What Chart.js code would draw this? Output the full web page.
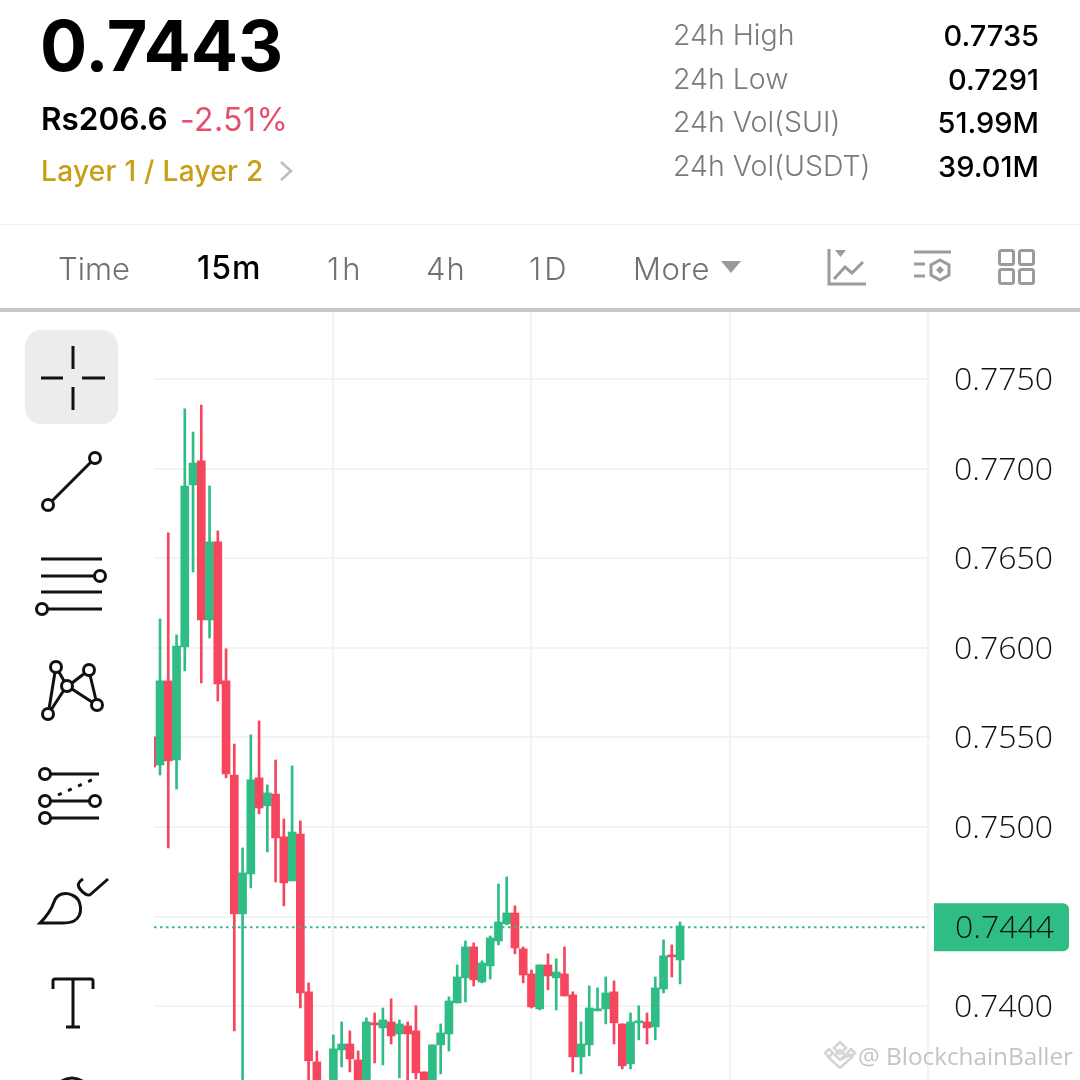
<!DOCTYPE html>
<html>
<head>
<meta charset="utf-8">
<title>SUI/USDT 15m</title>
<script src="https://cdn.jsdelivr.net/npm/chart.js@4/dist/chart.umd.min.js"></script>
<style>
  html, body { margin: 0; padding: 0; background: #fff; }
  #page { position: relative; width: 1080px; height: 1080px; overflow: hidden; font-family: Inter, sans-serif; }
  #page canvas { position: absolute; left: 0; top: 0; }
  #page svg { position: absolute; left: 0; top: 0; }
  .t { position: absolute; white-space: nowrap; transform: translateY(-50%); line-height: 1; }
  .r { transform: translate(-100%, -50%); }
  .lbl { left: 673px; font-size: 28.5px; color: #7a7a7a; font-weight: 300; }
  .val { left: 1039px; font-size: 29px; color: #000; font-weight: 500; }
  .tab { top: 268px; font-size: 31px; color: #707070; font-weight: 300; }
  .rule { position: absolute; left: 0; width: 1080px; }
</style>
</head>
<body>
<div id="page">
  <canvas id="myChart" width="1080" height="1080"></canvas>

  <div class="rule" style="top:224px;height:1px;background:#f1f1f1"></div>
  <div class="rule" style="top:308px;height:4px;background:#c6c8c6"></div>

  <div class="t" style="left:40px;top:46px;font-size:70px;font-weight:700;color:#000">0.7443</div>
  <div class="t" style="left:41px;top:119px;font-size:31.5px;font-weight:600;color:#000">Rs206.6</div>
  <div class="t" style="left:180px;top:120px;font-size:32px;font-weight:400;letter-spacing:0.4px;color:#e2506b">-2.51%</div>
  <div class="t" style="left:41px;top:171px;font-size:28px;font-weight:500;letter-spacing:0.3px;color:#c99e14">Layer 1 / Layer 2</div>

  <div class="t lbl" style="top:35px">24h High</div>
  <div class="t lbl" style="top:79px">24h Low</div>
  <div class="t lbl" style="top:122px">24h Vol(SUI)</div>
  <div class="t lbl" style="top:166px">24h Vol(USDT)</div>
  <div class="t val r" style="top:35px">0.7735</div>
  <div class="t val r" style="top:79px">0.7291</div>
  <div class="t val r" style="top:122px">51.99M</div>
  <div class="t val r" style="top:166px">39.01M</div>

  <div class="t tab" style="left:58px">Time</div>
  <div class="t tab" style="left:197px;color:#000;font-weight:500;font-size:32px;letter-spacing:1px">15m</div>
  <div class="t tab" style="left:327px;letter-spacing:3px">1h</div>
  <div class="t tab" style="left:426px;letter-spacing:1px">4h</div>
  <div class="t tab" style="left:529px;letter-spacing:3px">1D</div>
  <div class="t tab" style="left:633px;letter-spacing:0.5px">More</div>

  <svg width="1080" height="1080" fill="none" stroke-linecap="butt">
    <path d="M281 162l10 9-10 9" stroke="#bdbdbd" stroke-width="2.5"/>
    <path d="M721 261h20l-10 12z" fill="#999"/>
    <g stroke="#9b9b9b" stroke-width="3">
      <path d="M829 249V284H866"/>
      <path d="M835 250h11l-5.5 7z" fill="#9b9b9b" stroke="none"/>
      <path d="M834 279l11-12 7 6 11-11"/>
      <path d="M914 252h37M914 264h11M914 276h11"/>
      <path d="M940 260l9 5v10l-9 5-9-5v-10z"/>
      <path d="M940 266l4 4-4 4-4-4z" fill="#9b9b9b" stroke="none"/>
      <rect x="999.5" y="250.5" width="14" height="14" rx="2"/>
      <rect x="1019.5" y="250.5" width="14" height="14" rx="2"/>
      <rect x="999.5" y="269.5" width="14" height="14" rx="2"/>
      <rect x="1019.5" y="269.5" width="14" height="14" rx="2"/>
    </g>
    <rect x="25" y="330" width="93" height="94" rx="16" fill="#ececec"/>
    <g stroke="#111" stroke-width="3">
      <path d="M73 346v23M73 387v23M41 378h22M82 378h23"/>
      <circle cx="95" cy="458" r="5.5"/><circle cx="48" cy="505" r="5.5"/>
      <path d="M91 462L52 501"/>
      <path d="M41 559h61M41 576h54M41 592h61M47 609h55"/>
      <circle cx="100" cy="576" r="5.5"/><circle cx="42" cy="609" r="5.5"/>
      <path d="M55 672L49 709M59 672L64 681M51 710L64 690M72 683L85 673M90 675L96 700M72 689L92 702"/>
      <circle cx="56" cy="667" r="5.5"/><circle cx="89" cy="670" r="5.5"/><circle cx="67" cy="686" r="5.5"/>
      <circle cx="97" cy="705" r="5.5"/><circle cx="48" cy="714" r="5.5"/>
      <path d="M51 774h48M51 801h39M51 818h48"/>
      <path d="M58 795L94 779" stroke-dasharray="4 7"/>
      <circle cx="45" cy="774" r="5.5"/><circle cx="45" cy="801" r="5.5"/><circle cx="95" cy="801" r="5.5"/><circle cx="45" cy="818" r="5.5"/>
      <path d="M40 923C48 915 52 908 54 902C57 893 66 892 72 895C82 899 84 915 74 921C70 923 68 923 62 923Z"/>
      <path d="M83 879C78 882 77 885 80 889C83 893 88 897 91 894L108 879"/>
      <path d="M53 989V981Q53 979 55 979H91Q93 979 93 981V989M73 979V1027M66 1027H80"/>
      <path d="M60 1082Q72 1074 84 1082"/>
    </g>
    <g stroke="#cfcfcf" stroke-width="2.5" opacity="0.9">
      <path d="M840 1042l6 6-6 6-6-6zM840 1050l5 5-5 5-5-5zM829 1049l4 4-4 4-4-4zM851 1049l4 4-4 4-4-4zM840 1060l12-6M840 1068l-13-12M840 1068l13-12"/>
    </g>
  </svg>
  <div class="t" style="left:858px;top:1056px;font-size:24.3px;font-family:'Open Sans',sans-serif;color:#c4c4c4">@ BlockchainBaller</div>
</div>

<script>
// last price and the y axis levels
const lastPrice = 0.7444;
const yTicks = [0.74, 0.745, 0.75, 0.755, 0.76, 0.765, 0.77, 0.775];
const xGridAt = [22, 46, 70, 94];

// 15m candles, oldest first
const opens = [
  0.75503, 0.75346, 0.75815, 0.75374, 0.76005, 0.76909, 0.77043, 0.76155, 0.76591, 0.75815,
  0.75290, 0.74515, 0.74738, 0.75274, 0.75118, 0.75184, 0.74945, 0.74699, 0.74961, 0.74080,
  0.73689, 0.73561, 0.73533, 0.73756, 0.73789, 0.73700, 0.73533, 0.73907, 0.73879, 0.73912,
  0.73845, 0.73890, 0.73862, 0.73633, 0.73533, 0.73784, 0.73845, 0.74018, 0.74158, 0.74331,
  0.74135, 0.74225, 0.74364, 0.74459, 0.74520, 0.74320, 0.74180, 0.73985, 0.74230, 0.74158,
  0.74180, 0.74063, 0.73717, 0.73784, 0.73974, 0.73985, 0.74080, 0.73901, 0.73678, 0.73907,
  0.73912, 0.73884, 0.74096, 0.74286, 0.74258
];
const highs = [
  0.75503, 0.76161, 0.76641, 0.76072, 0.77333, 0.77204, 0.77355, 0.76903, 0.76652, 0.75994,
  0.75463, 0.74883, 0.75514, 0.75592, 0.75235, 0.75374, 0.75045, 0.75341, 0.75034, 0.74130,
  0.73750, 0.73572, 0.73840, 0.73912, 0.73862, 0.73750, 0.73935, 0.73962, 0.73990, 0.74041,
  0.73923, 0.73912, 0.74002, 0.73633, 0.73784, 0.73901, 0.74052, 0.74230, 0.74364, 0.74353,
  0.74253, 0.74392, 0.74682, 0.74721, 0.74560, 0.74331, 0.74202, 0.74230, 0.74292, 0.74264,
  0.74331, 0.74080, 0.73912, 0.74113, 0.74102, 0.74163, 0.74141, 0.73901, 0.73962, 0.74002,
  0.73962, 0.74163, 0.74370, 0.74342, 0.74470
];
const lows = [
  0.75335, 0.75290, 0.74883, 0.75212, 0.75871, 0.76423, 0.75804, 0.76055, 0.75703, 0.75274,
  0.73862, 0.73533, 0.74660, 0.75073, 0.74861, 0.74693, 0.74560, 0.74699, 0.73990, 0.73533,
  0.73421, 0.73421, 0.73477, 0.73661, 0.73633, 0.73505, 0.73477, 0.73683, 0.73672, 0.73789,
  0.73600, 0.73533, 0.73594, 0.73505, 0.73505, 0.73622, 0.73750, 0.74018, 0.74024, 0.74113,
  0.74130, 0.74152, 0.74342, 0.74453, 0.74292, 0.74130, 0.73990, 0.73979, 0.74091, 0.73979,
  0.74057, 0.73633, 0.73622, 0.73723, 0.73974, 0.73901, 0.73789, 0.73650, 0.73650, 0.73812,
  0.73789, 0.73812, 0.74074, 0.74163, 0.74124
];
const closes = [
  0.75335, 0.75815, 0.75369, 0.76010, 0.76903, 0.77031, 0.76155, 0.76591, 0.75798, 0.75296,
  0.74515, 0.74744, 0.75263, 0.75106, 0.75190, 0.74939, 0.74688, 0.74972, 0.74074, 0.73695,
  0.73477, 0.73477, 0.73762, 0.73789, 0.73706, 0.73561, 0.73912, 0.73895, 0.73923, 0.73834,
  0.73901, 0.73845, 0.73628, 0.73533, 0.73784, 0.73851, 0.74029, 0.74163, 0.74331, 0.74147,
  0.74241, 0.74381, 0.74470, 0.74520, 0.74325, 0.74174, 0.73996, 0.74230, 0.74169, 0.74191,
  0.74057, 0.73717, 0.73789, 0.73990, 0.73985, 0.74074, 0.73907, 0.73667, 0.73912, 0.73918,
  0.73879, 0.74102, 0.74281, 0.74275, 0.74448
];

const GREEN = '#2ebd85';
const RED = '#f6465d';
const candleColor = ctx => closes[ctx.dataIndex] >= opens[ctx.dataIndex] ? GREEN : RED;

// price tag on the axis, sits over the 0.7450 label like in the app
const lastPriceTag = {
  id: 'lastPriceTag',
  afterDraw(chart) {
    const { ctx, scales } = chart;
    const y = scales.y.getPixelForValue(lastPrice);
    ctx.save();
    ctx.fillStyle = GREEN;
    ctx.beginPath();
    ctx.roundRect(934, y - 24, 135, 48, [0, 6, 6, 0]);
    ctx.fill();
    ctx.fillStyle = '#111';
    ctx.font = '300 32px "Open Sans"';
    ctx.textAlign = 'left';
    ctx.textBaseline = 'middle';
    ctx.fillText(lastPrice.toFixed(4), 955, y + 2);
    ctx.restore();
  }
};

new Chart(document.getElementById('myChart'), {
  type: 'bar',
  data: {
    datasets: [
      {
        type: 'line',
        data: [{ x: 0.27, y: lastPrice }, { x: 94.04, y: lastPrice }],
        borderColor: GREEN,
        borderWidth: 2,
        borderDash: [2.5, 3.5],
        pointRadius: 0,
        order: 0,
      },
      {
        data: opens.map((o, i) => ({ x: i, y: [o, closes[i]] })),
        backgroundColor: candleColor,
        barThickness: 8,
        grouped: false,
        minBarLength: 2,
        order: 1,
      },
      {
        data: lows.map((l, i) => ({ x: i, y: [l, highs[i]] })),
        backgroundColor: candleColor,
        barThickness: 2,
        grouped: false,
        order: 2,
      },
    ],
  },
  options: {
    responsive: false,
    animation: false,
    devicePixelRatio: 1,
    layout: { padding: { top: 310, left: 154, right: 0, bottom: 0 } },
    plugins: { legend: { display: false }, tooltip: { enabled: false } },
    scales: {
      x: {
        type: 'linear',
        offset: false,
        min: 0.27,
        max: 94.04,
        afterBuildTicks: scale => { scale.ticks = xGridAt.map(value => ({ value })); },
        afterFit: scale => { scale.height = 0; scale.paddingLeft = 0; scale.paddingRight = 0; },
        grid: { color: '#f3f3f3', lineWidth: 2, offset: false, drawTicks: false },
        border: { display: false },
        ticks: { display: false },
      },
      y: {
        position: 'right',
        min: 0.73588,
        max: 0.77885,
        afterBuildTicks: scale => { scale.ticks = yTicks.map(value => ({ value })); },
        afterFit: scale => { scale.width = 152; scale.paddingTop = 0; scale.paddingBottom = 0; },
        grid: { color: '#f3f3f3', lineWidth: 2, tickLength: 3 },
        border: { display: false },
        ticks: {
          padding: 23,
          labelOffset: 2,
          color: '#111',
          font: { family: '"Open Sans"', size: 32, weight: '300' },
          callback: value => value.toFixed(4),
        },
      },
    },
  },
  plugins: [lastPriceTag],
});
</script>
</body>
</html>
